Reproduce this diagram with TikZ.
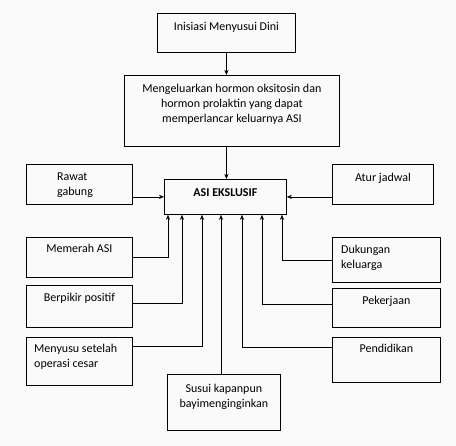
\documentclass[tikz,border=0pt]{standalone}
\usepackage{fontspec}
\setmainfont{Carlito}
\usetikzlibrary{arrows.meta, positioning, calc}

\begin{document}
\begin{tikzpicture}[
      x=1pt, y=-1pt,
      box/.style={draw, rectangle, line width=0.8pt, anchor=north west, inner sep=0pt},
      txt/.style={inner sep=0pt, font=\fontsize{12}{15}\selectfont, align=center},
      >={Stealth[length=5pt, width=4pt]}
    ]
      \path[fill=gray!4] (0,0) rectangle (456,446);
      % boxes
      \node[box, minimum width=138pt, minimum height=39pt] (imd) at (157,13) {};
      \node[box, minimum width=215pt, minimum height=71pt] (horm) at (124,75) {};
      \node[box, minimum width=122pt, minimum height=35pt] (asi) at (164,179) {};
      \node[box, minimum width=106pt, minimum height=40pt] (rawat) at (26,164) {};
      \node[box, minimum width=101pt, minimum height=40pt] (atur) at (332,164) {};
      \node[box, minimum width=106pt, minimum height=40pt] (memerah) at (26,237) {};
      \node[box, minimum width=108pt, minimum height=45pt] (dukung) at (332,237) {};
      \node[box, minimum width=106pt, minimum height=42pt] (berpikir) at (26,285) {};
      \node[box, minimum width=108pt, minimum height=39pt] (kerja) at (332,288) {};
      \node[box, minimum width=106pt, minimum height=48pt] (cesar) at (26,337) {};
      \node[box, minimum width=108pt, minimum height=45pt] (didik) at (332,337) {};
      \node[box, minimum width=113pt, minimum height=56pt] (susui) at (167,374) {};
      % texts
      \node[txt, below=9pt of imd.north] (imdt) {Inisiasi Menyusui Dini};
      \node[txt, below=9pt of horm.north] (hormt) {Mengeluarkan hormon oksitosin dan\\hormon prolaktin yang dapat\\memperlancar keluarnya ASI};
      \node[txt, font=\fontsize{12}{15}\selectfont\bfseries, below=9pt of asi.north] (asit) {ASI EKSLUSIF};
      \node[txt, align=left, below right=9pt and 31pt of rawat.north west] (rawatt) {Rawat\\gabung};
      \node[txt, below=9pt of atur.north] (aturt) {Atur jadwal};
      \node[txt, below=7pt of memerah.north] (memeraht) {Memerah ASI};
      \node[txt, align=left, below right=8pt and 9pt of dukung.north west] (dukungt) {Dukungan\\keluarga};
      \node[txt, below=8pt of berpikir.north] (berpikirt) {Berpikir positif};
      \node[txt, below=8pt of kerja.north] (kerjat) {Pekerjaan};
      \node[txt, align=left, below right=7pt and 8pt of cesar.north west] (cesart) {Menyusu setelah\\operasi cesar};
      \node[txt, below=7pt of didik.north] (didikt) {Pendidikan};
      \node[txt, below=10pt of susui.north] (susuit) {Susui kapanpun\\bayimenginginkan};
      % entry points under ASI EKSLUSIF
      \foreach \n/\dx in {1/4, 2/18, 3/38, 4/57, 5/78, 6/98, 7/118}
        \coordinate (in\n) at ([xshift=\dx pt]asi.south west);
      % connectors
      \draw[->] (imd.south) -- (imd.south |- horm.north);
      \draw[->] (horm.south -| imd.south) -- (asi.north -| imd.south);
      \draw[->] (rawat.east |- asi.west) -- (asi.west);
      \draw[->] (atur.west |- asi.east) -- (asi.east);
      \draw[->] (memerah.east) -| (in1);
      \draw[->] ([yshift=3pt]berpikir.east) -| (in2);
      \draw[->] ([yshift=-9pt]cesar.north east) -| (in3);
      \draw[->] (susui.north -| in4) -- (in4);
      \draw[->] ([yshift=-10pt]didik.north west) -| (in5);
      \draw[->] ([yshift=4pt]kerja.west) -| (in6);
      \draw[->] (dukung.west) -| (in7);
    \end{tikzpicture}
\end{document}
